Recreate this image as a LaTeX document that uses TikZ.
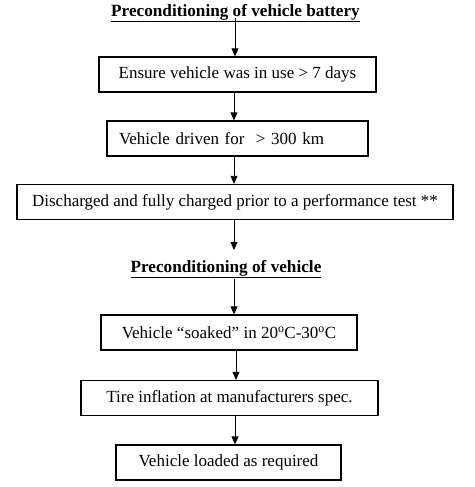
\documentclass[tikz,border=0pt]{standalone}
\usepackage{fontspec}
\setmainfont{Liberation Serif}
\usetikzlibrary{arrows.meta}
\begin{document}
\begin{tikzpicture}[x=1pt,y=-1pt,
  stepbox/.style={draw,line width=1.3pt,minimum height=35pt,inner sep=0pt,font=\fontsize{17}{20}\selectfont},
  heading/.style={inner sep=1pt,font=\bfseries\fontsize{17.2}{20}\selectfont},
  arr/.style={line width=0.8pt,-{Triangle[length=8pt,width=7pt]}}]
\useasboundingbox (0,0) rectangle (474,487);
\node[heading] (t1) at (235.5,13) {\underline{Preconditioning of vehicle battery}};
\node[stepbox,minimum width=277pt] (b1) at (237.5,74.5) {Ensure vehicle was in use > 7 days};
\node[stepbox,minimum width=261pt,text width=237pt,align=left] (b2) at (237.5,138.5) {Vehicle driven for \ > 300 km};
\node[stepbox,minimum width=436pt] (b3) at (235,202) {Discharged and fully charged prior to a performance test **};
\coordinate (c3) at (234,250);
\node[heading] (t2) at (226,269) {\underline{Preconditioning of vehicle}};
\node[stepbox,minimum width=256pt] (b4) at (229,332.5) {Vehicle “soaked” in 20\textsuperscript{o}C-30\textsuperscript{o}C};
\node[stepbox,minimum width=297pt] (b5) at (229.5,398) {Tire inflation at manufacturers spec.};
\node[stepbox,minimum width=225pt] (b6) at (228.5,462.5) {Vehicle loaded as required};
\draw[arr] (235,18) -- (b1.north -| 235,0);
\draw[arr] (b1.south -| 234,0) -- (b2.north -| 234,0);
\draw[arr] (b2.south -| 234,0) -- (b3.north -| 234,0);
\draw[arr] (b3.south -| 234,0) -- (c3);
\draw[arr] (t2.south -| 234,0) -- (b4.north -| 234,0);
\draw[arr] (b4.south -| 236,0) -- (b5.north -| 236,0);
\draw[arr] (b5.south -| 235,0) -- (b6.north -| 235,0);
\end{tikzpicture}
\end{document}
